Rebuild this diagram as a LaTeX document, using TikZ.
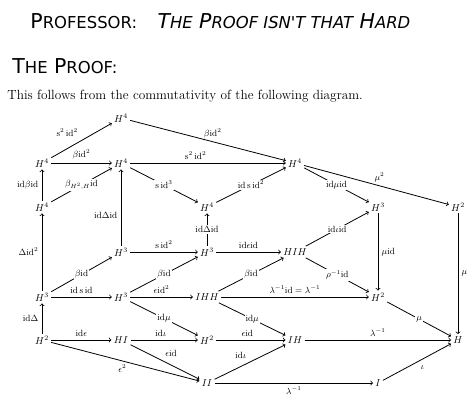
\documentclass[tikz,border=0pt]{standalone}
\usepackage{amsmath}
\usepackage{amssymb}
\usepackage{fontspec}
\usepackage{tikz}
\usetikzlibrary{positioning}
\newfontfamily\headfont{DejaVu Sans}
\newcommand{\smcap}[1]{{\fontsize{16.4}{19}\selectfont #1}}
\newcommand{\idm}{\mathrm{id}}
\tikzset{
	head/.style={anchor=base west, inner sep=0pt},
	obj/.style={inner sep=2pt},
	lab/.style={font=\small},
	onl/.style={font=\small, fill=white, inner sep=1pt},
}

\begin{document}
\begin{tikzpicture}[on grid, line width=0.8pt, >=to]
		\useasboundingbox (0,0) rectangle (474pt,-410pt);
		% heading
		\node[head] (prof) at (30pt,-28pt) {\headfont\fontsize{20.5}{24}\selectfont P\smcap{ROFESSOR:}\quad{\itshape T\smcap{HE} P\smcap{ROOF ISN'T THAT} H\smcap{ARD}}};
		\node[head] (proof) at (12pt,-73pt) {\headfont\fontsize{20.5}{24}\selectfont T\smcap{HE} P\smcap{ROOF:}};
		\node[head] (intro) at (7pt,-99pt) {\fontsize{13.3}{15}\selectfont This follows from the commutativity of the following diagram.};
		
		% objects
		\node[obj] (a) at (121pt,-118pt) {$H^4$};
		\node[obj, below=45pt of a] (c) {$H^4$};
		\node[obj, left=79pt of c] (b) {$H^4$};
		\node[obj, right=174pt of c] (d) {$H^4$};
		\node[obj, below right=44pt and 86pt of c] (e) {$H^4$};
		\node[obj, right=171pt of e] (f) {$H^3$};
		\node[obj, right=80pt of f] (g) {$H^2$};
		\node[obj, below=44pt of b] (h) {$H^4$};
		\node[obj, below=45pt of e] (n) {$H^3$};
		\node[obj, left=86pt of n] (m) {$H^3$};
		\node[obj, right=88pt of n] (hih) {$HIH$};
		\node[obj, below=90pt of h] (p) {$H^3$};
		\node[obj, right=79pt of p] (q) {$H^3$};
		\node[obj, right=86pt of q] (ihh) {$IHH$};
		\node[obj, right=171pt of ihh] (r) {$H^2$};
		\node[obj, below=43pt of p] (s) {$H^2$};
		\node[obj, right=79pt of s] (hi) {$HI$};
		\node[obj, right=86pt of hi] (t) {$H^2$};
		\node[obj, right=88pt of t] (ih) {$IH$};
		\node[obj, right=163pt of ih] (u) {$H$};
		\node[obj, below=43pt of t] (ii) {$II$};
		\node[obj, right=171pt of ii] (i) {$I$};
		
		% top part
		\draw[->] (b) to node[lab, above left] {$\mathrm{s}^2\,\idm^2$} (a);
		\draw[->] (b) to node[lab, above] {$\beta\idm^2$} (c);
		\draw[->] (a) to node[lab, above, pos=.53] {$\beta\idm^2$} (d);
		\draw[->] (c) to node[lab, above, pos=.42] {$\mathrm{s}^2\,\idm^2$} (d);
		\draw[->] (c) to node[onl] {$\mathrm{s}\,\idm^3$} (e);
		\draw[->] (e) to node[onl] {$\idm\,\mathrm{s}\,\idm^2$} (d);
		\draw[->] (d) to node[onl] {$\idm\mu\idm$} (f);
		\draw[->] (d) to node[lab, above, pos=.52] {$\mu^2$} (g);
		\draw[->] (h) to node[onl] {$\beta_{H^2,H}\idm$} (c);
		\draw[->] (h) to node[lab, left] {$\idm\beta\idm$} (b);
		
		% middle part
		\draw[->] (p) to node[lab, left] {$\Delta\idm^2$} (h);
		\draw[->] (m) to node[lab, left, pos=.4] {$\idm\Delta\idm$} (c);
		\draw[->] (n) to node[onl] {$\idm\Delta\idm$} (e);
		\draw[->] (m) to node[lab, above] {$\mathrm{s}\,\idm^2$} (n);
		\draw[->] (n) to node[lab, above] {$\idm\epsilon\idm$} (hih);
		\draw[->] (hih) to node[onl] {$\idm\iota\idm$} (f);
		\draw[->] (hih) to node[onl] {$\rho^{-1}\idm$} (r);
		\draw[->] (f) to node[lab, right] {$\mu\idm$} (r);
		\draw[->] (g) to node[lab, right] {$\mu$} (u);
		\draw[->] (p) to node[onl] {$\beta\idm$} (m);
		\draw[->] (p) to node[lab, above] {$\idm\,\mathrm{s}\,\idm$} (q);
		\draw[->] (q) to node[onl] {$\beta\idm$} (n);
		\draw[->] (q) to node[lab, above] {$\epsilon\idm^2$} (ihh);
		\draw[->] (ihh) to node[onl] {$\beta\idm$} (hih);
		\draw[->] (ihh) to node[lab, above] {$\lambda^{-1}\idm=\lambda^{-1}$} (r);
		
		% bottom part
		\draw[->] (s) to node[lab, left] {$\idm\Delta$} (p);
		\draw[->] (s) to node[lab, above] {$\idm\epsilon$} (hi);
		\draw[->] (hi) to node[lab, above, pos=.45] {$\idm\iota$} (t);
		\draw[->] (q) to node[onl] {$\idm\mu$} (t);
		\draw[->] (ihh) to node[onl] {$\idm\mu$} (ih);
		\draw[->] (t) to node[lab, above, pos=.45] {$\epsilon\idm$} (ih);
		\draw[->] (ih) to node[lab, above] {$\lambda^{-1}$} (u);
		\draw[->] (r) to node[onl] {$\mu$} (u);
		\draw[->] (hi) to node[lab, above right, pos=.45] {$\epsilon\idm$} (ii);
		\draw[->] (s) to node[lab, below, pos=.48] {$\epsilon^2$} (ii);
		\draw[->] (ii) to node[lab, above left] {$\idm\iota$} (ih);
		\draw[->] (ii) to node[lab, below] {$\lambda^{-1}$} (i);
		\draw[->] (i) to node[lab, below right] {$\iota$} (u);
	\end{tikzpicture}
\end{document}
